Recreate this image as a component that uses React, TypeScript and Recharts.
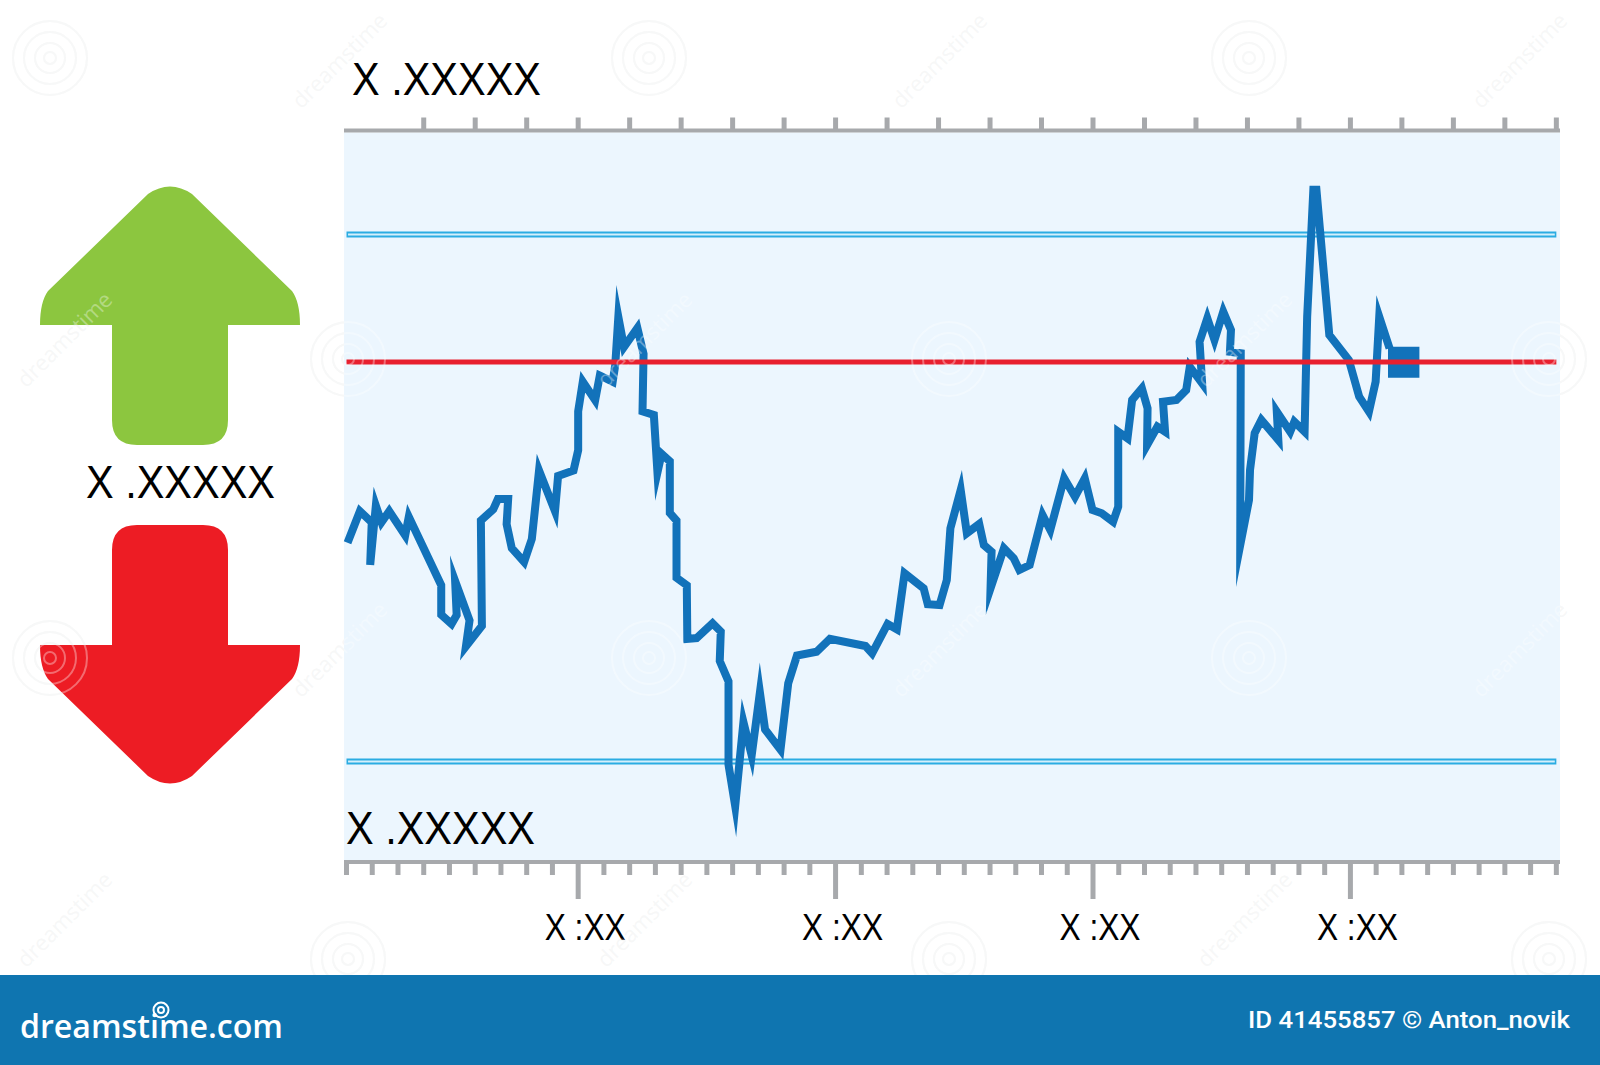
import {
  ComposedChart,
  Line,
  XAxis,
  YAxis,
  ReferenceArea,
  ReferenceLine,
} from "recharts";

const minutes = [
  0.2, 2.6, 4.9, 4.6, 5.7, 6.8, 8.3, 11.4, 12.1, 18.4, 18.4, 20.4, 21.4, 21.1, 23.9, 23.2, 26.3, 26.1, 28.5, 29.4,
  31.4, 31.1, 32.1, 34.5, 36, 37.4, 40.5, 41.1, 44.1, 45, 45, 45.9, 48.3, 49.2, 51.7, 52.2, 52.8, 53.9, 56.5, 57.7,
  57.5, 59.7, 60.4, 61.2, 62.8, 62.8, 64.1, 64.1, 66.1, 66.2, 68, 71.1, 72.7, 72.5, 74.2, 74.2, 75.5, 77.1, 78.7, 80.3,
  81.3, 84.3, 85.8, 87.5, 91.3, 93.9, 100.8, 102.1, 105.1, 106.9, 108.4, 112.1, 112.9, 115.2, 116.6, 117.3, 119.3, 120.5, 122.9, 123.8,
  125.3, 125.1, 127.7, 129.6, 130.7, 132.7, 135.2, 136.7, 139.4, 141.5, 143.4, 144.9, 146.7, 148.9, 149.9, 149.9, 151.7, 152.6, 154.5, 155.6,
  155.5, 157.5, 159, 158.6, 161.2, 163.1, 163.8, 166.2, 165.7, 167.2, 168.6, 170.3, 171.8, 171.6, 173.7, 173.6, 175.3, 175.5, 176.4,
  177.7, 181, 180.7, 183.3, 184.1, 186.1, 186.6, 187.8, 188.4, 190.9, 194.7, 196.7, 198.6, 199.9, 200.6, 202.6,
];

const prices = [
  319.3, 350.8, 339.7, 297.1, 356.3, 339.7, 350.8, 326.7, 345.2, 276.8, 247.2, 238, 247, 281, 241.6, 215.7, 236.1, 341.5, 352.6, 363,
  363, 337.8, 313.8, 300.1, 323, 391.5, 350.8, 386, 391.5, 411.8, 450.7, 480.3, 461.8, 486.5, 480.3, 497, 545, 515, 534, 508,
  450.7, 447, 389.6, 408.1, 400.7, 349, 341.5, 284.2, 276.8, 223.1, 223.9, 238.7, 230.5, 201, 180.6, 97.4, 56, 139.9, 106.6, 169.5,
  132.5, 112.2, 178.7, 206.5, 210.2, 223.1, 216, 208.7, 238, 232.7, 288.7, 273.7, 257.7, 257, 282, 333.7, 372, 328.7, 338, 317,
  310.3, 273.7, 313.7, 303.7, 292, 297, 347, 332, 383.7, 365.3, 383.7, 352, 348.7, 340.3, 355.3, 430.3, 423.7, 462, 473.7, 453.7,
  417, 435.3, 430.3, 460.3, 462, 472, 495.3, 478.7, 520.3, 543.7, 522, 550.3, 532, 510.3, 508.7, 317, 362, 392, 428.7,
  442, 422, 450.3, 430.3, 440.3, 430.3, 545.3, 672.3, 672.3, 527, 502, 465.3, 450.3, 480.3, 545.3, 513.7,
];

const bottomTicks = [
  0, 5, 10, 15, 20, 25, 30, 35, 40, 45, 50, 55, 60, 65, 70, 75, 80, 85, 90, 95, 100, 105, 110, 115,
  120, 125, 130, 135, 140, 145, 150, 155, 160, 165, 170, 175, 180, 185, 190, 195, 200, 205, 210, 215, 220, 225, 230, 235,
];
const majorTicks = [45, 95, 145, 195];
const topTicks = [15, 25, 35, 45, 55, 65, 75, 85, 95, 105, 115, 125, 135, 145, 155, 165, 175, 185, 195, 205, 215, 225, 235];

const UPPER_LEVEL = 627.5;
const MID_LEVEL = 500;
const LOWER_LEVEL = 100.5;
const LAST_BOX = { x1: 202.3, x2: 208.4, y1: 484.3, y2: 515.3 };

const X_DOMAIN: [number, number] = [-0.486, 235.71];
const Y_DOMAIN: [number, number] = [0, 731.5];

const ringCenters = [
  [50, 58], [649, 58], [1249, 58],
  [348, 359], [949, 359], [1549, 359],
  [50, 658], [649, 658], [1249, 658],
  [348, 959], [949, 959], [1549, 959],
];
const markCenters = [
  [345, 66], [945, 66], [1525, 66],
  [70, 345], [650, 345], [1250, 345],
  [345, 655], [945, 655], [1525, 655],
  [70, 925], [650, 925], [1250, 925],
];

const rows = minutes.map((minute, i) => ({ minute, price: prices[i] }));

const GREY = "#a7a9ac";
const BLUE = "#1272ba";
const RED = "#e8202f";
const BAND = "#2bace2";
const PANEL = "#ecf6fe";
const FONT = "'Liberation Sans', Arial, sans-serif";

const ARROW =
  "M148 194 Q170 179 192 194 L292 291 Q300 302 300 325 L228 325 L228 420 Q228 445 203 445 L137 445 Q112 445 112 420 L112 325 L40 325 Q40 302 48 291 Z";

function TopTick({ x, y }: any) {
  return <line x1={x} x2={x} y1={y} y2={y - 13} stroke={GREY} strokeWidth={5} />;
}

function BottomTick({ x, y, payload }: any) {
  const major = majorTicks.includes(payload.value);
  return (
    <g>
      <line x1={x} x2={x} y1={y} y2={y + (major ? 37 : 13)} stroke={GREY} strokeWidth={5} />
      {major && (
        <text
          x={x + 7}
          y={y + 78}
          textAnchor="middle"
          fontFamily={FONT}
          fontSize={37}
          fill="#000"
          textLength={81}
          lengthAdjust="spacingAndGlyphs"
        >
          X :XX
        </text>
      )}
    </g>
  );
}

// clipped at the footer's top edge
function Watermark({ color, opacity }: { color: string; opacity: number }) {
  return (
    <svg width={1600} height={975} style={{ position: "absolute", left: 0, top: 0, pointerEvents: "none" }}>
      <g fill="none" stroke={color} strokeOpacity={opacity} strokeWidth={2}>
        {ringCenters.map(([cx, cy]) => (
          <g key={`${cx}-${cy}`}>
            <circle cx={cx} cy={cy} r={37} />
            <circle cx={cx} cy={cy} r={26} />
            <circle cx={cx} cy={cy} r={15} />
            <circle cx={cx} cy={cy} r={6} />
          </g>
        ))}
      </g>
      {markCenters.map(([cx, cy]) => (
        <text
          key={`${cx}-${cy}`}
          x={cx}
          y={cy}
          transform={`rotate(-45 ${cx} ${cy})`}
          textAnchor="middle"
          fontFamily="'Open Sans', sans-serif"
          fontSize={22}
          fill={color}
          fillOpacity={opacity}
        >
          dreamstime
        </text>
      ))}
    </svg>
  );
}

function Overlay() {
  return (
    <svg width={1600} height={1065} style={{ position: "absolute", left: 0, top: 0 }}>
      <path d={ARROW} fill="#8cc63f" />
      <path d={ARROW} fill="#ed1c24" transform="matrix(1 0 0 -1 0 970)" />
      <g fontFamily={FONT} fontSize={47} fill="#000">
        <text x={352} y={95} textLength={189} lengthAdjust="spacingAndGlyphs">
          X .XXXXX
        </text>
        <text x={86} y={498} textLength={189} lengthAdjust="spacingAndGlyphs">
          X .XXXXX
        </text>
        <text x={346} y={844} textLength={189} lengthAdjust="spacingAndGlyphs">
          X .XXXXX
        </text>
      </g>
      <rect x={0} y={975} width={1600} height={90} fill="#0f75b0" />
      <text
        x={20}
        y={1038}
        fontFamily="'Open Sans', sans-serif"
        fontWeight={600}
        fontSize={32}
        fill="#fff"
        textLength={263}
        lengthAdjust="spacingAndGlyphs"
      >
        dreamstime.com
      </text>
      <g fill="none" stroke="#fff" strokeWidth={2}>
        <circle cx={161} cy={1010} r={7.5} />
        <circle cx={161} cy={1010} r={3} />
      </g>
      <text
        x={1248}
        y={1028}
        fontFamily="Roboto, sans-serif"
        fontWeight={500}
        fontSize={23}
        fill="#fff"
        textLength={322}
        lengthAdjust="spacingAndGlyphs"
      >
        ID 41455857 © Anton_novik
      </text>
    </svg>
  );
}

export default function App() {
  return (
    <div style={{ position: "absolute", left: 0, top: 0, width: 1600, height: 1065, background: "#fff", overflow: "hidden" }}>
      <Watermark color="#c9cfcf" opacity={0.22} />
      <div style={{ position: "absolute", left: 0, top: 0 }}>
        <ComposedChart
          width={1600}
          height={1065}
          data={rows}
          margin={{ top: 0, right: 40, bottom: 0, left: 344 }}
        >
          <XAxis
            xAxisId="top"
            orientation="top"
            dataKey="minute"
            type="number"
            domain={X_DOMAIN}
            ticks={topTicks}
            interval={0}
            height={130.5}
            tickSize={0}
            tickMargin={0}
            tick={TopTick}
            axisLine={{ stroke: GREY, strokeWidth: 4 }}
            tickLine={false}
          />
          <XAxis
            xAxisId="bottom"
            dataKey="minute"
            type="number"
            domain={X_DOMAIN}
            ticks={bottomTicks}
            interval={0}
            height={203}
            tickSize={0}
            tickMargin={0}
            tick={BottomTick}
            axisLine={{ stroke: GREY, strokeWidth: 4 }}
            tickLine={false}
          />
          <YAxis hide domain={Y_DOMAIN} />
          <ReferenceArea
            xAxisId="bottom"
            x1={X_DOMAIN[0]}
            x2={X_DOMAIN[1]}
            y1={2}
            y2={Y_DOMAIN[1] - 2}
            fill={PANEL}
            fillOpacity={1}
            stroke="none"
          />
          <ReferenceLine
            xAxisId="bottom"
            segment={[{ x: 0, y: UPPER_LEVEL }, { x: 235, y: UPPER_LEVEL }]}
            stroke={BAND}
            strokeWidth={6}
          />
          <ReferenceLine
            xAxisId="bottom"
            segment={[{ x: 0.3, y: UPPER_LEVEL }, { x: 234.7, y: UPPER_LEVEL }]}
            stroke="#d5effb"
            strokeWidth={2}
          />
          <ReferenceLine
            xAxisId="bottom"
            segment={[{ x: 0, y: LOWER_LEVEL }, { x: 235, y: LOWER_LEVEL }]}
            stroke={BAND}
            strokeWidth={6}
          />
          <ReferenceLine
            xAxisId="bottom"
            segment={[{ x: 0.3, y: LOWER_LEVEL }, { x: 234.7, y: LOWER_LEVEL }]}
            stroke="#d5effb"
            strokeWidth={2}
          />
          <ReferenceArea
            xAxisId="bottom"
            x1={LAST_BOX.x1}
            x2={LAST_BOX.x2}
            y1={LAST_BOX.y1}
            y2={LAST_BOX.y2}
            fill={BLUE}
            fillOpacity={1}
            stroke="none"
          />
          <Line
            xAxisId="bottom"
            dataKey="price"
            type="linear"
            stroke={BLUE}
            strokeWidth={8}
            strokeLinejoin="miter"
            strokeLinecap="butt"
            strokeMiterlimit={30}
            dot={false}
            activeDot={false}
            isAnimationActive={false}
          />
          <ReferenceLine
            xAxisId="bottom"
            segment={[{ x: 0, y: MID_LEVEL }, { x: 235, y: MID_LEVEL }]}
            stroke={RED}
            strokeWidth={5}
          />
        </ComposedChart>
      </div>
      <Overlay />
      <Watermark color="#ffffff" opacity={0.35} />
    </div>
  );
}
